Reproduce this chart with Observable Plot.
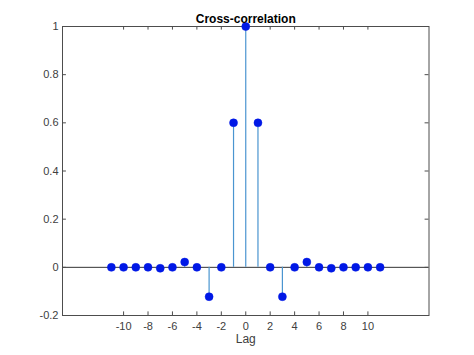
<!DOCTYPE html>
<html><head><meta charset="utf-8">
<script src="https://cdn.jsdelivr.net/npm/d3@7"></script>
<script src="https://cdn.jsdelivr.net/npm/@observablehq/plot@0.6"></script>
<style>body{margin:0;background:#fff;} svg{font-family:"Liberation Sans",Arial,sans-serif;}</style>
</head><body><div id="chart"></div>
<script>
const lags = [-11,-10,-9,-8,-7,-6,-5,-4,-3,-2,-1,0,1,2,3,4,5,6,7,8,9,10,11];
const values = [0,0,0,0,-0.004,0,0.022,0,-0.122,0,0.6,1,0.6,0,-0.122,0,0.022,0,-0.004,0,0,0,0];
const xTicks = [-10,-8,-6,-4,-2,0,2,4,6,8,10];
const yTicks = [-0.2,0,0.2,0.4,0.6,0.8,1];
const title = "Cross-correlation";
const xLabel = "Lag";

const data = lags.map((l,i)=>({lag:l, v:values[i]}));
const axisColor = "#4d4d4d";
const textColor = "#404040";

const plot = Plot.plot({
  width: 474, height: 355,
  marginLeft: 62, marginRight: 45.5, marginTop: 26, marginBottom: 40,
  style: {fontSize: "11px", fontFamily: "Liberation Sans, Arial, sans-serif", color: textColor, background: "#fff"},
  x: {domain: [-15, 15], label: null},
  y: {domain: [-0.2, 1], label: null},
  marks: [
    Plot.frame({stroke: axisColor, strokeWidth: 1}),
    Plot.ruleY([0], {stroke: "#333", strokeWidth: 1}),
    Plot.axisX(xTicks, {anchor: "bottom", tickSize: 0, tickPadding: 7, tickFormat: d => String(d), fill: textColor, label: null}),
    Plot.ruleX(xTicks, {x: d=>d, y1: 1, y2: 0.985, stroke: axisColor}),
    Plot.ruleX(xTicks, {x: d=>d, y1: -0.2, y2: -0.185, stroke: axisColor}),
    Plot.axisY(yTicks, {anchor: "left", tickSize: 0, tickPadding: 4, tickFormat: d => String(d), fill: textColor, label: null}),
    Plot.ruleY(yTicks, {x1: -15, x2: -14.68, stroke: axisColor}),
    Plot.ruleY(yTicks, {x1: 15, x2: 14.68, stroke: axisColor}),
    Plot.ruleX(data, {x: "lag", y1: 0, y2: "v", stroke: "#4a95d0", strokeWidth: 1.2}),
    Plot.dot(data, {x: "lag", y: "v", r: 4, fill: "#0018e6", stroke: "#0018e6", strokeWidth: 0.5}),
    Plot.text([title], {frameAnchor: "top", dy: -4, lineAnchor: "bottom", fontWeight: "bold", fontSize: 12, fill: "#000"}),
    Plot.text([xLabel], {frameAnchor: "bottom", dy: 27, fontSize: 12, fill: textColor})
  ]
});
document.getElementById("chart").appendChild(plot);
</script></body></html>
